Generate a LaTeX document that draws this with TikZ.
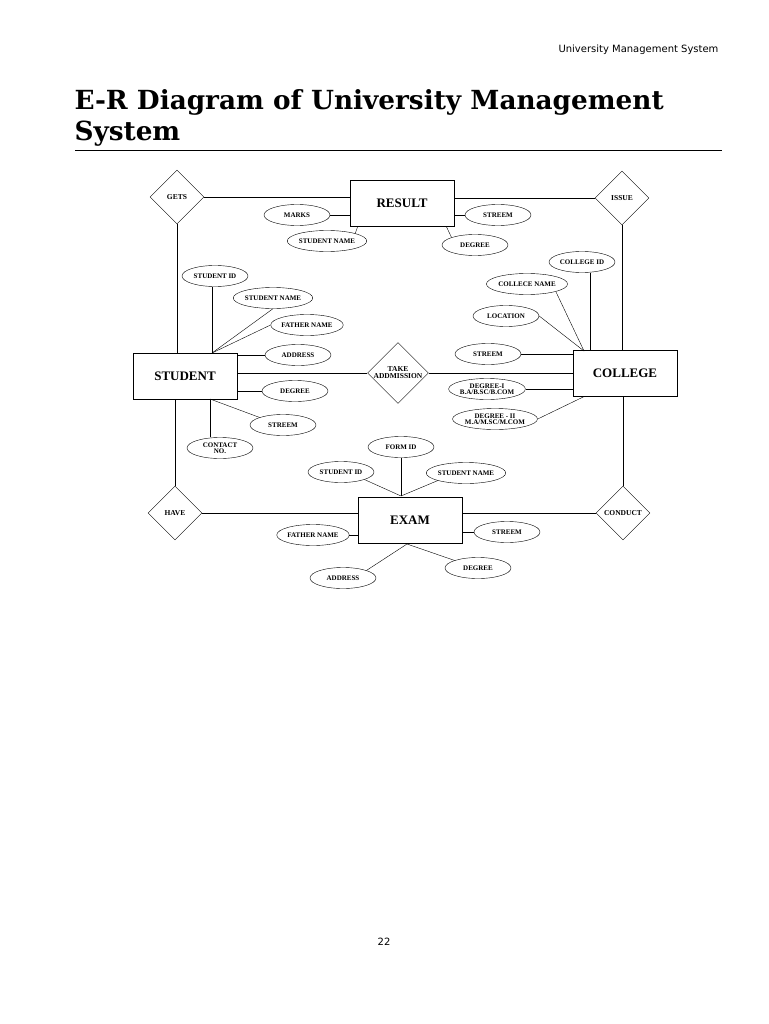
\documentclass[tikz,border=0pt]{standalone}
\usepackage{fontspec}
\setmainfont{Liberation Serif}
\newfontfamily\headfont{DejaVu Sans}
\newfontfamily\titlefont{DejaVu Serif}
\usetikzlibrary{shapes.geometric, positioning}

\begin{document}
\begin{tikzpicture}[x=1pt, y=-1pt,
            entity/.style={rectangle, draw=black, minimum width=104pt, minimum height=46pt, font=\fontsize{13}{13}\selectfont\bfseries},
            attr/.style={ellipse, draw=black, minimum width=66pt, minimum height=21pt, inner sep=0pt, align=center, font=\fontsize{7}{6.5}\selectfont\bfseries},
            rel/.style={diamond, draw=black, minimum width=54pt, minimum height=54pt, inner sep=0pt, align=center, font=\fontsize{7.5}{7}\selectfont\bfseries},
            conn/.style={draw=black, thin}
        ]
            \useasboundingbox (0,0) rectangle (768,1024);

% Page header and title
            \node[anchor=east, font=\headfont\fontsize{10}{10}\selectfont] (head) at (722,50) {University Management System};
            \node[anchor=west, align=left, font=\titlefont\fontsize{26.3}{31}\selectfont\bfseries] (title) at (71,118) {E-R Diagram of University Management\\System};
            \coordinate (rulea) at (75,150);
            \coordinate (ruleb) at (722,150);
            \draw[thin] (rulea) -- (ruleb);
            \node[font=\headfont\fontsize{10}{10}\selectfont] (page) at (384,942) {22};

% Entities
            \node[entity] (result) at (402,203) {RESULT};
            \node[entity] (student) at (185,376) {STUDENT};
            \node[entity] (college) at (625,373) {COLLEGE};
            \node[entity] (exam) at (410,520) {EXAM};

% Relationships
            \node[rel] (gets) at (177,197) {GETS};
            \node[rel] (issue) at (622,198) {ISSUE};
            \node[rel] (take) at (398,373) {TAKE\\ADDMISSION};
            \node[rel] (have) at (175,513) {HAVE};
            \node[rel] (conduct) at (623,513) {CONDUCT};

% Result attributes
            \node[attr] (rmarks) at (297,215) {MARKS};
            \node[attr] (rsname) at (327,241) {STUDENT NAME};
            \node[attr] (rstreem) at (498,215) {STREEM};
            \node[attr] (rdegree) at (475,245) {DEGREE};

% Student attributes
            \node[attr] (sid) at (215,276) {STUDENT ID};
            \node[attr] (sname) at (273,298) {STUDENT NAME};
            \node[attr] (sfather) at (307,325) {FATHER NAME};
            \node[attr] (saddress) at (298,355) {ADDRESS};
            \node[attr] (sdegree) at (295,391) {DEGREE};
            \node[attr] (sstreem) at (283,425) {STREEM};
            \node[attr] (scontact) at (220,448) {CONTACT\\NO.};

% College attributes
            \node[attr] (cid) at (582,262) {COLLEGE ID};
            \node[attr] (cname) at (527,284) {COLLECE NAME};
            \node[attr] (clocation) at (506,316) {LOCATION};
            \node[attr] (cstreem) at (488,354) {STREEM};
            \node[attr, minimum width=72pt] (cdeg1) at (487,389) {DEGREE-I\\B.A/B.SC/B.COM};
            \node[attr, minimum width=72pt] (cdeg2) at (495,419) {DEGREE - II\\M.A/M.SC/M.COM};

% Exam attributes
            \node[attr] (eform) at (401,447) {FORM ID};
            \node[attr] (esid) at (341,472) {STUDENT ID};
            \node[attr] (esname) at (466,473) {STUDENT NAME};
            \node[attr] (efather) at (313,535) {FATHER NAME};
            \node[attr] (estreem) at (507,532) {STREEM};
            \node[attr] (eaddress) at (343,578) {ADDRESS};
            \node[attr] (edegree) at (478,568) {DEGREE};

% Relationship lines
            \draw[conn] (gets.east) -- (gets.east -| result.west);
            \draw[conn] (issue.west) -- (issue.west -| result.east);
            \draw[conn] (gets.south) -- (gets.south |- student.north);
            \draw[conn] (issue.south) -- (issue.south |- college.north);
            \draw[conn] (have.north) -- (have.north |- student.south);
            \draw[conn] (conduct.north) -- (conduct.north |- college.south);
            \draw[conn] (have.east) -- (have.east -| exam.west);
            \draw[conn] (conduct.west) -- (conduct.west -| exam.east);
            \draw[conn] (take.west) -- (take.west -| student.east);
            \draw[conn] (take.east) -- (take.east -| college.west);

% Result attribute lines
            \draw[conn] (rmarks.east) -- (rmarks.east -| result.west);
            \draw[conn] (rstreem.west) -- (rstreem.west -| result.east);
            \draw[conn] (rsname.north east) -- ([xshift=8pt]result.south west);
            \draw[conn] (rdegree.north west) -- ([xshift=-8pt]result.south east);

% Student attribute lines
            \coordinate (sjoin) at (212,353);
            \draw[conn] (sid.south -| sjoin) -- (sjoin);
            \draw[conn] (sname.south) -- (sjoin);
            \draw[conn] (sfather.west) -- (sjoin);
            \draw[conn] (saddress.west) -- (saddress.west -| student.east);
            \draw[conn] (sdegree.west) -- (sdegree.west -| student.east);
            \coordinate (sfoot) at (210,399);
            \draw[conn] (sstreem.north west) -- (sfoot);
            \draw[conn] (scontact.north -| sfoot) -- (sfoot);

% College attribute lines
            \coordinate (cjoin) at (584,351);
            \draw[conn] (cid.south -| 590,0) -- (590,351);
            \draw[conn] (cname.south east) -- (cjoin);
            \draw[conn] (clocation.east) -- (cjoin);
            \draw[conn] (cstreem.east) -- (cstreem.east -| college.west);
            \draw[conn] (cdeg1.east) -- (cdeg1.east -| college.west);
            \draw[conn] (cdeg2.east) -- ([xshift=12pt]college.south west);

% Exam attribute lines
            \coordinate (ejoin) at (401,496);
            \draw[conn] (eform.south) -- (ejoin);
            \draw[conn] (esid.south east) -- (ejoin);
            \draw[conn] (esname.south west) -- (ejoin);
            \draw[conn] (efather.east) -- (efather.east -| exam.west);
            \draw[conn] (estreem.west) -- (estreem.west -| exam.east);
            \coordinate (efoot) at (407,544);
            \draw[conn] (eaddress.north east) -- (efoot);
            \draw[conn] (edegree.north west) -- (efoot);

        \end{tikzpicture}
\end{document}
